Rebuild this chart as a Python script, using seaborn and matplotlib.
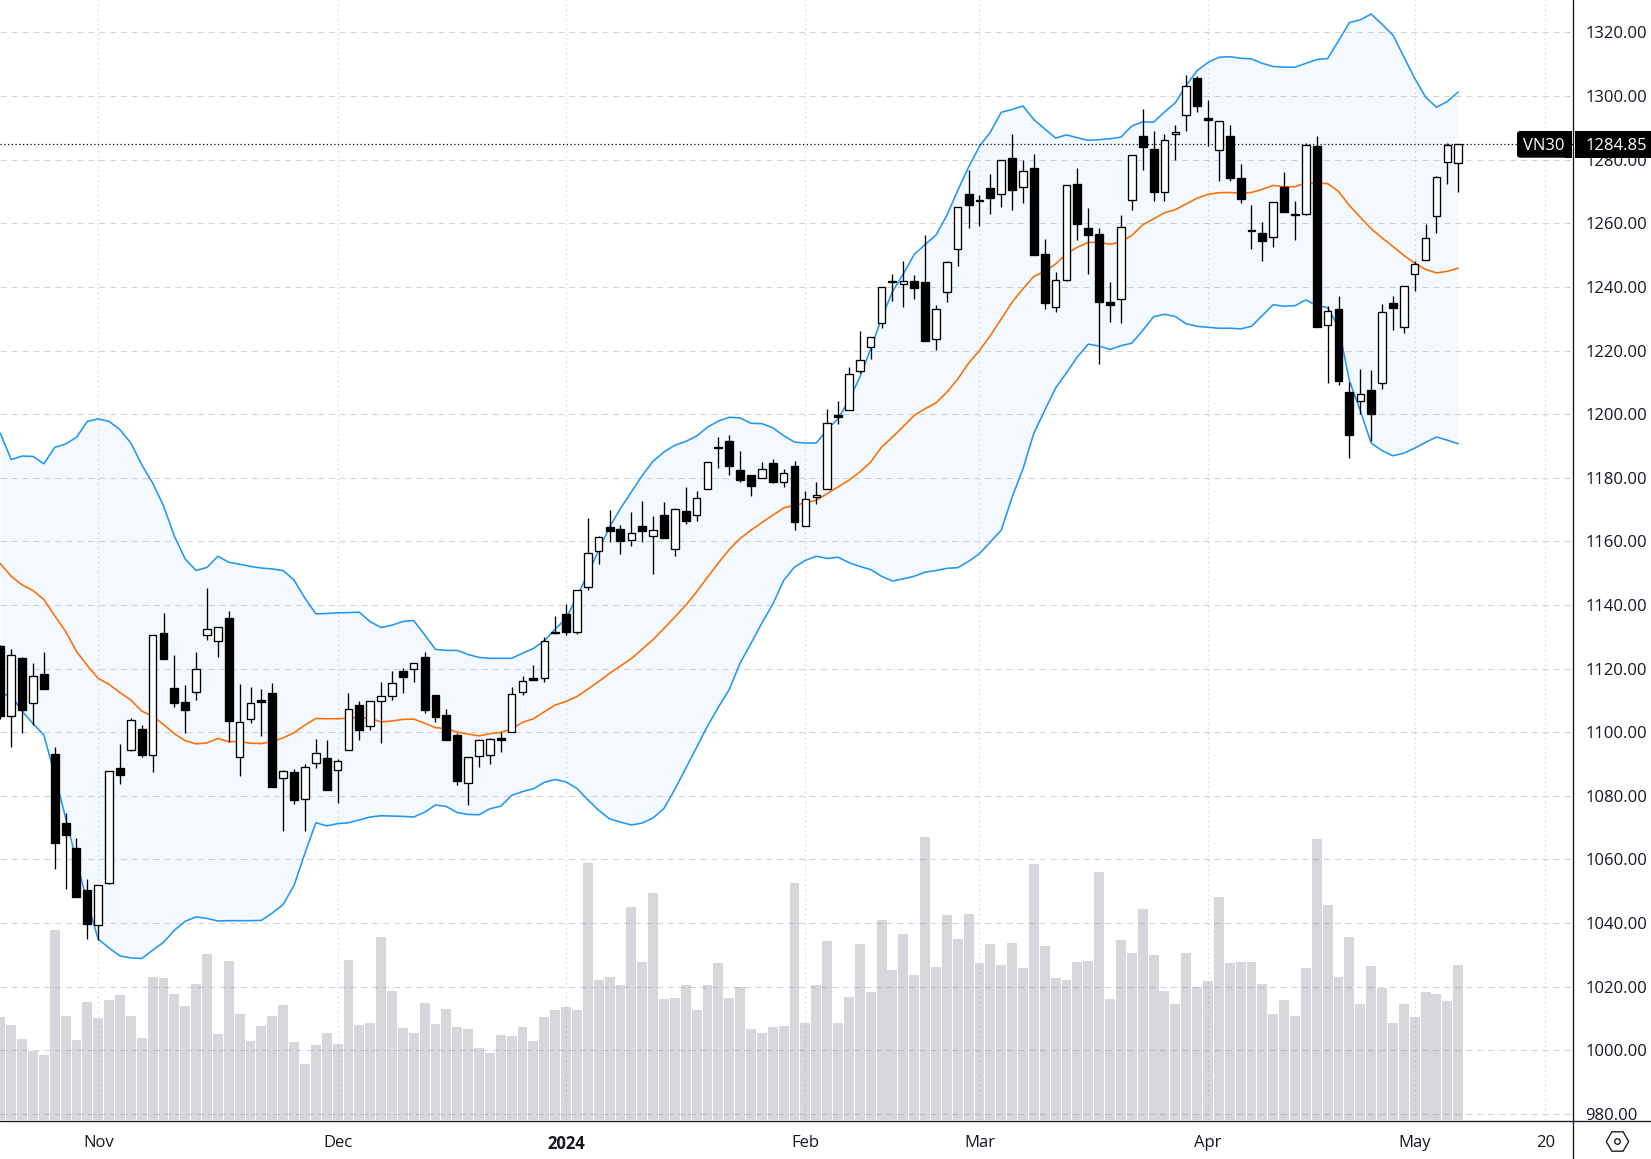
import numpy as np
import matplotlib
matplotlib.use("Agg")
import matplotlib.pyplot as plt
import seaborn as sns
from matplotlib.lines import Line2D
from matplotlib.patches import Circle, FancyBboxPatch, Rectangle, RegularPolygon
from matplotlib.transforms import IdentityTransform

opens = [1127, 1105.2, 1123.2, 1109.2, 1118.2, 1093.2, 1071.5, 1063.6, 1050.2, 1039.4,
         1052.5, 1088.7, 1094.5, 1101, 1092.7, 1131.1, 1113.8, 1109.5, 1112.7, 1130.6,
         1128.7, 1135.8, 1092.1, 1104, 1110, 1112.2, 1085.5, 1087.5, 1079.1, 1090.4,
         1092, 1088.2, 1094.5, 1108.5, 1101.8, 1109.8, 1111.5, 1119.2, 1119.8, 1123.5,
         1111.6, 1105.4, 1099.2, 1084, 1092.6, 1092.9, 1098, 1099.9, 1112.7, 1117,
         1116.9, 1131.5, 1137.1, 1131.5, 1145.7, 1156.8, 1164.4, 1163.8, 1160.4, 1164.7,
         1161.7, 1168.2, 1157.6, 1169.4, 1168.3, 1176.4, 1189.8, 1191.4, 1182.3, 1180.7,
         1179.9, 1184.5, 1178.6, 1183.6, 1164.8, 1174, 1176.4, 1199.6, 1201.4, 1213.5,
         1221, 1228.6, 1242, 1240.8, 1241.9, 1241.4, 1223.5, 1238.3, 1251.9, 1269.1,
         1267.2, 1271, 1269.2, 1280.4, 1271.4, 1277.3, 1250.2, 1233.6, 1242.1, 1272.5,
         1258.4, 1256.5, 1235.4, 1236.1, 1267.4, 1287.6, 1283.5, 1269.8, 1288.1, 1294,
         1305.6, 1293.2, 1283, 1287.6, 1274.1, 1258, 1257, 1255.7, 1271.3, 1263,
         1262.9, 1284.2, 1227.9, 1232.9, 1207, 1204, 1207.7, 1209.7, 1235, 1227.3,
         1244.1, 1248.5, 1262.4, 1279.3, 1279]
closes = [1105.2, 1124.1, 1107.1, 1117.5, 1113.6, 1065.2, 1067.7, 1048, 1039.5, 1052,
          1087.8, 1086.4, 1103.7, 1092.9, 1130.4, 1122.9, 1109.2, 1107, 1119.8, 1132.3,
          1132.9, 1103.5, 1103.1, 1109, 1109.6, 1082.8, 1087.8, 1078.8, 1089, 1093.4,
          1081.9, 1090.9, 1107.4, 1100.7, 1109.7, 1111.5, 1115.4, 1117.4, 1121.6, 1107,
          1104.8, 1097.6, 1084.6, 1092.2, 1097.5, 1097.8, 1097.4, 1112.1, 1116, 1116.3,
          1128.8, 1131.1, 1131.6, 1144.8, 1156.4, 1161.2, 1163.2, 1160, 1162.7, 1163.1,
          1163.7, 1160.9, 1170.3, 1166.3, 1173.7, 1185, 1189.3, 1183.7, 1179.2, 1177.3,
          1182.8, 1178.8, 1181.6, 1166, 1173.4, 1174.7, 1197.3, 1199.2, 1212.7, 1217.1,
          1224.3, 1240, 1241.4, 1241.9, 1239.5, 1222.9, 1233.1, 1247.9, 1265.2, 1265.6,
          1267.1, 1268.1, 1280, 1270.6, 1276.5, 1249.9, 1234.8, 1242.2, 1272.1, 1259.9,
          1256.2, 1235.4, 1234.4, 1258.9, 1281.6, 1283.9, 1269.7, 1286.3, 1288.8, 1303.3,
          1296.8, 1292.4, 1292.3, 1274.1, 1267.5, 1257.5, 1254.3, 1266.8, 1263.4, 1262.5,
          1284.7, 1227.5, 1232.4, 1210.5, 1193.5, 1206.3, 1200.1, 1232.1, 1233.5, 1240.3,
          1247.2, 1255.4, 1274.6, 1284.7, 1284.85]
highs = [1127.5, 1126, 1123.5, 1121.7, 1125.2, 1095.3, 1074.6, 1066.7, 1053.7, 1052,
         1087.8, 1096.3, 1104.4, 1102.2, 1130.4, 1137.3, 1124.2, 1114.8, 1125.2, 1145.3,
         1133, 1138.1, 1115.1, 1114.2, 1113.6, 1115.4, 1088, 1088.4, 1090, 1097.8,
         1097.6, 1091.6, 1112.2, 1109.7, 1109.7, 1115.7, 1119.2, 1120.3, 1121.8, 1125.1,
         1111.8, 1107.4, 1099.8, 1092.3, 1097.8, 1098.2, 1100.1, 1114.2, 1117.6, 1121.2,
         1129.8, 1136.4, 1140.2, 1144.8, 1167.2, 1161.6, 1170, 1165, 1169.1, 1172.6,
         1167.9, 1172.3, 1170.5, 1177, 1175.7, 1185, 1192.7, 1193.3, 1188.3, 1180.7,
         1184.8, 1185.8, 1182.6, 1185.1, 1175.7, 1178.8, 1201.5, 1204, 1214.7, 1226,
         1224.3, 1240, 1243.9, 1248.3, 1243.6, 1256.2, 1234.3, 1248.3, 1265.2, 1276.9,
         1269, 1275.4, 1280, 1288, 1280, 1281.7, 1255.2, 1244.8, 1272.1, 1277.3,
         1264.7, 1258.4, 1241.4, 1262.5, 1281.6, 1295.8, 1288.9, 1288, 1290.8, 1306.5,
         1306.2, 1298.7, 1292.3, 1290.8, 1278.8, 1265.6, 1260.3, 1266.8, 1276, 1266.9,
         1285.4, 1287.6, 1234.1, 1237, 1210.2, 1214.3, 1214, 1234.6, 1237, 1240.3,
         1248.3, 1259.8, 1274.9, 1285.3, 1285]
lows = [1104, 1095.3, 1099.8, 1102.2, 1113.6, 1056.8, 1050.8, 1048, 1034.8, 1034.6,
        1052.2, 1083.6, 1094.2, 1092.1, 1087.3, 1122.9, 1107.9, 1099.8, 1110.1, 1128.9,
        1123.5, 1097, 1086.3, 1103, 1098.8, 1082.8, 1069, 1077.3, 1068.8, 1088.6,
        1081.9, 1077.8, 1094.4, 1097.6, 1100.8, 1096.6, 1110.2, 1112.4, 1115.6, 1106.1,
        1103.2, 1097.6, 1083.5, 1077, 1089, 1090.1, 1093.8, 1099.9, 1111.8, 1116.3,
        1115.6, 1130.7, 1130.5, 1131, 1144.6, 1152.8, 1159.7, 1155.9, 1158.4, 1159.7,
        1149.6, 1160.9, 1155.3, 1165.3, 1166.3, 1176.4, 1183, 1181, 1178.5, 1174.1,
        1179.9, 1178.2, 1177, 1163.5, 1164.8, 1171.6, 1176.4, 1196.8, 1201.4, 1213,
        1217.4, 1227, 1235.7, 1233.8, 1236.3, 1222.9, 1220.3, 1235.1, 1246.7, 1258.4,
        1259, 1262.8, 1265, 1264.3, 1266.5, 1249.9, 1232.9, 1232.2, 1242, 1254.6,
        1243.9, 1215.6, 1229.1, 1228.5, 1264.3, 1276.9, 1266.9, 1266.9, 1279.8, 1288.9,
        1294.9, 1284.2, 1273.2, 1273.2, 1266.5, 1251.8, 1248.3, 1252.7, 1263.4, 1254.6,
        1262.5, 1227.5, 1209.9, 1209.3, 1186.3, 1200.1, 1191.6, 1208, 1226.6, 1225.6,
        1238.8, 1248.5, 1256.8, 1272.5, 1270]
volume = [103, 95, 81, 69, 65, 190, 104, 80, 118, 102,
          120, 125, 104, 82, 143, 142, 126, 114, 136, 166,
          86, 159, 106, 79, 94, 104, 115, 78, 56, 75,
          87, 76, 160, 95, 97, 183, 129, 92, 87, 117,
          96, 111, 93, 91, 72, 67, 85, 84, 93, 79,
          103, 110, 113, 110, 257, 140, 143, 135, 213, 158,
          227, 121, 122, 135, 110, 135, 157, 122, 133, 91,
          87, 93, 94, 237, 97, 135, 179, 97, 123, 176,
          128, 200, 150, 186, 145, 283, 153, 205, 181, 206,
          157, 176, 155, 177, 152, 256, 174, 142, 140, 158,
          159, 248, 121, 180, 167, 211, 165, 129, 116, 167,
          133, 139, 223, 157, 158, 158, 136, 106, 120, 104,
          152, 281, 215, 143, 183, 116, 154, 132, 97, 116,
          103, 128, 126, 119, 155]
bb_upper = [1194, 1185.7, 1186.8, 1186.7, 1184.4, 1189.5, 1190.6, 1192.7, 1197.7, 1198.5,
            1197.7, 1195.1, 1190.9, 1184.1, 1178.3, 1171.2, 1161.6, 1154.4, 1150.8, 1151.8,
            1155.3, 1153.4, 1152.8, 1152.1, 1151.6, 1151.3, 1150.8, 1147.8, 1142.1, 1137.2,
            1137.3, 1137.5, 1137.6, 1137.7, 1134.7, 1132.9, 1133.6, 1134.8, 1135.1, 1130.6,
            1126, 1125.7, 1125.7, 1124.4, 1123.5, 1123.2, 1123.2, 1123.2, 1124.8, 1126.3,
            1128.7, 1132.4, 1135.7, 1142.5, 1149.8, 1157.2, 1164.5, 1170.3, 1175.5, 1180.7,
            1185.2, 1188.1, 1190.2, 1191.4, 1193.1, 1195.9, 1197.8, 1199, 1198.8, 1197.1,
            1197, 1195.7, 1193.2, 1191.2, 1190.9, 1190.9, 1195.1, 1198.6, 1204.3, 1211.6,
            1220.5, 1230.2, 1238.5, 1244.1, 1250.2, 1253.3, 1256.3, 1262.5, 1270.3, 1277.7,
            1284.2, 1288.7, 1294.9, 1295.8, 1296.9, 1292.6, 1289.7, 1286.8, 1287.8, 1286.9,
            1286.1, 1286.3, 1286.6, 1287.1, 1290.6, 1291.9, 1291.8, 1295, 1297.9, 1303.4,
            1308, 1310.6, 1312.2, 1312.4, 1311.9, 1311.7, 1310.3, 1309.3, 1309.1, 1309.1,
            1310.3, 1311.5, 1311.8, 1317.4, 1323.1, 1324, 1325.8, 1322.6, 1319.2, 1312.4,
            1305.6, 1299.7, 1296.5, 1298.3, 1301.3]
bb_mid = [1153, 1149, 1146.3, 1144.5, 1141.7, 1136.6, 1131.7, 1125.4, 1120.9, 1116.9,
          1115, 1112.4, 1110.1, 1106.6, 1105, 1102.4, 1099.5, 1097.3, 1096.3, 1096.6,
          1098, 1097, 1097, 1096.5, 1096.4, 1097, 1098.2, 1099.8, 1102.2, 1104.3,
          1104.2, 1104.2, 1104.4, 1104.6, 1104.3, 1103.2, 1103.5, 1104, 1104.1, 1102.8,
          1101.4, 1101.1, 1100, 1099.4, 1098.8, 1099.5, 1099.9, 1101, 1103.1, 1104.2,
          1106.4, 1108.5, 1109.6, 1111.2, 1113.5, 1115.9, 1118.5, 1120.8, 1123.1, 1126.1,
          1129.1, 1132.6, 1136.2, 1139.9, 1144.1, 1148.7, 1153.2, 1157.4, 1160.9, 1163.5,
          1165.9, 1168.2, 1170.5, 1171.3, 1172.1, 1172.9, 1175, 1177.1, 1179.2, 1181.8,
          1184.9, 1189.6, 1192.8, 1196.1, 1199.6, 1201.7, 1203.5, 1206.9, 1211, 1216,
          1220, 1224.7, 1229.9, 1235.2, 1239.4, 1243.3, 1244.9, 1247.2, 1250.4, 1252.5,
          1254, 1254, 1253.4, 1254.1, 1256.2, 1259.5, 1261.4, 1263.3, 1264.3, 1266.1,
          1267.9, 1269.1, 1269.6, 1269.7, 1269.5, 1269.7, 1270.7, 1271.9, 1271.5, 1271.5,
          1272.7, 1272.5, 1272.5, 1270, 1265.6, 1261.9, 1258.3, 1255.4, 1252.7, 1249.9,
          1247.5, 1245.5, 1244.4, 1244.9, 1245.9]
bb_lower = [1112, 1111.5, 1106.6, 1102.7, 1099.1, 1086.6, 1073, 1059.5, 1046.5, 1034.9,
            1032.1, 1029.6, 1029, 1028.8, 1031.4, 1033.9, 1037.7, 1040.5, 1041.9, 1041.4,
            1040.6, 1040.7, 1040.7, 1040.7, 1040.8, 1043.1, 1045.8, 1051.8, 1061.9, 1071.5,
            1070.5, 1071.2, 1071.5, 1072.4, 1073.3, 1073.7, 1073.6, 1073.5, 1073.3, 1074.8,
            1077.1, 1076.6, 1074.7, 1074.1, 1074, 1075.9, 1076.7, 1080.1, 1081.3, 1082.2,
            1084.2, 1085.1, 1084.3, 1082.3, 1078.7, 1075.4, 1072.7, 1071.7, 1070.8, 1071.4,
            1073, 1076, 1082, 1088.6, 1095.2, 1101.9, 1107.8, 1113.4, 1121.7, 1127.9,
            1134.3, 1140.2, 1147.7, 1151.9, 1154, 1155.3, 1154.6, 1155, 1153.3, 1152.1,
            1151.1, 1149, 1147.5, 1148.2, 1149, 1150.3, 1150.8, 1151.5, 1151.7, 1153.7,
            1156.1, 1159.8, 1163.5, 1173.9, 1182.8, 1194, 1201.2, 1208.2, 1213, 1218,
            1222, 1221.4, 1220.3, 1221.5, 1222.3, 1226.3, 1230.6, 1231.4, 1230.7, 1228.4,
            1227.6, 1227.3, 1227, 1227, 1226.8, 1227.6, 1231, 1234.4, 1233.9, 1234.1,
            1235.9, 1234.1, 1233.5, 1227.3, 1210.5, 1201.1, 1190.9, 1188.5, 1186.9, 1187.7,
            1189.3, 1191.1, 1192.8, 1191.8, 1190.7]

last_price = 1284.85
symbol = "VN30"
price_ticks = list(range(980, 1340, 20))
date_ticks = [9, 31, 52, 74, 90, 111, 130, 142]
date_labels = ["Nov", "Dec", "2024", "Feb", "Mar", "Apr", "May", "20"]

W, H = 1651, 1159
sns.set_theme(style="white")
plt.rcParams["font.family"] = ["Open Sans", "DejaVu Sans"]

ink = "#131722"
grid_c = "#d1d4dc"
blue = "#2196f3"
orange = "#ff6d00"

idx = np.arange(len(closes))
o, c, h, l = map(np.array, (opens, closes, highs, lows))

fig = plt.figure(figsize=(W / 100, H / 100), dpi=100, facecolor="white")
ax = fig.add_axes([0, 1 - 1120 / H, 1573.3 / W, 1120 / H])
ax.set_facecolor("white")

# grid
ax.set_yticks(price_ticks)
ax.set_xticks(date_ticks)
ax.grid(True, axis="y", color=grid_c, lw=0.75, ls=(0, (6, 4.5)))
ax.grid(True, axis="x", color=grid_c, lw=0.8, ls=(0, (1.2, 3.2)))
ax.set_axisbelow(True)

# bollinger bands
ax.fill_between(idx, bb_lower, bb_upper, color=blue, alpha=0.05, lw=0, zorder=1)
sns.lineplot(x=idx, y=bb_upper, ax=ax, color=blue, lw=1.15, zorder=2)
sns.lineplot(x=idx, y=bb_lower, ax=ax, color=blue, lw=1.15, zorder=2)
sns.lineplot(x=idx, y=bb_mid, ax=ax, color=orange, lw=1.15, zorder=2)

ax.axhline(last_price, color="black", lw=0.9, ls=(0, (1, 2)), zorder=2)

# candles
ax.vlines(idx, l, h, color="black", lw=0.95, zorder=3)
up = c >= o
ax.bar(idx[up], (c - o)[up], bottom=o[up], width=0.69, color="white",
       edgecolor="black", lw=0.95, zorder=4)
ax.bar(idx[~up], (c - o)[~up], bottom=o[~up], width=0.73, color="black",
       edgecolor="black", lw=0.95, zorder=4)

# volume goes on its own hidden scale
ax_vol = ax.twinx()
sns.barplot(x=idx, y=volume, ax=ax_vol, native_scale=True, color="#787b86",
            saturation=1, alpha=0.3, width=0.91, linewidth=0, errorbar=None)
ax_vol.set_ylim(0, 1120)
ax_vol.axis("off")

ax.set_xlim(-0.028, 144.58)
ax.set_ylim(978.02, 1330.22)
ax.set_xticks(date_ticks)
ax.set_xticklabels(date_labels)
ax.set_yticks(price_ticks)
ax.set_yticklabels([f"{p:.2f}" for p in price_ticks])
ax.yaxis.tick_right()
ax.tick_params(axis="both", length=0, labelsize=12, labelcolor=ink)
ax.tick_params(axis="y", pad=8.5)
ax.tick_params(axis="x", pad=10.5)
for lab, txt in zip(ax.get_xticklabels(), date_labels):
    if txt == "2024":
        lab.set_fontweight("bold")
for sp in ("top", "left", "bottom", "right"):
    ax.spines[sp].set_visible(False)

# axis lines run on past the plot area
fig.add_artist(Line2D([0, 1], [1 - 1120.5 / H] * 2, color=ink, lw=0.95))
fig.add_artist(Line2D([1573.3 / W] * 2, [0, 1], color=ink, lw=0.95))

# last price tag, drawn in pixels
disp = IdentityTransform()
tag_top, tag_bot = H - 131, H - 157.7
tag_mid = (tag_top + tag_bot) / 2 - 2
fig.add_artist(FancyBboxPatch((1520, tag_bot + 3), 49, tag_top - tag_bot - 6,
                              boxstyle="round,pad=3", fc="black", ec="none",
                              transform=disp))
fig.add_artist(Rectangle((1565, tag_bot), 7, tag_top - tag_bot, fc="black",
                         ec="none", transform=disp))
fig.add_artist(Rectangle((1574.5, tag_bot), W - 1574.5, tag_top - tag_bot,
                         fc="black", ec="none", transform=disp))
fig.text(1544 / W, tag_mid / H, symbol, color="white",
         fontsize=12, ha="center", va="center")
fig.text(1585.5 / W, tag_mid / H, f"{last_price:.2f}", color="white",
         fontsize=12, ha="left", va="center")

# settings icon in the corner
fig.add_artist(RegularPolygon((1617.5, H - 1141.5), 6, radius=11.2,
                              orientation=np.pi / 2, fc="none", ec=ink, lw=0.95,
                              transform=disp))
fig.add_artist(Circle((1617.5, H - 1141.5), 2.8, fc="none", ec=ink, lw=0.95,
                      transform=disp))

fig.savefig("out.png", dpi=100, facecolor="white")
